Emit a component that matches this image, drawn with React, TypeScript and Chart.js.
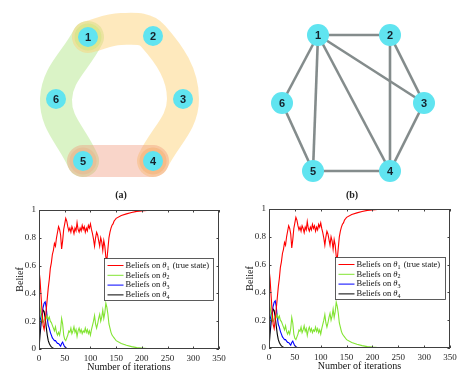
import React, { useEffect, useRef } from "react";
import { Chart, registerables } from "chart.js";
Chart.register(...registerables);

// ---------- diagram data ----------
const nodeLabels = ["1", "2", "3", "4", "5", "6"];
// hypergraph (a) node centres (diagram units)
const hyperNodeX = [88, 153, 183, 153, 83, 56];
const hyperNodeY = [37, 36, 99, 161, 161, 99];
// hyperedges (centre-lines of bands)
const orangeEdgeX = [88, 121, 153, 183, 153];
const orangeEdgeY = [37, 29, 36, 99, 161];
const greenEdgeX = [88, 56, 83];
const greenEdgeY = [37, 99, 161];
const redEdgeX = [83, 153];
const redEdgeY = [161, 161];
const ringNodes = [0, 4, 3];
const ringColors = ["rgba(200,230,120,0.45)", "rgba(236,170,130,0.35)", "rgba(242,170,100,0.4)"];

// graph (b)
const graphNodeX = [81, 153, 187, 153, 76, 45];
const graphNodeY = [35, 35, 103, 171, 171, 103];
const graphEdges = [
  [0, 1], [0, 5], [0, 4], [0, 3], [0, 2], [1, 2], [1, 3], [2, 3], [3, 4], [4, 5],
];

// ---------- belief series ----------
const iterations = [
  0, 2, 4, 6, 8, 10, 12, 14, 16, 18, 20, 22, 24, 26, 28, 30, 32, 34, 36, 38, 40, 42, 44, 46, 48,
  50, 52, 54, 56, 58, 60, 62, 64, 66, 68, 70, 72, 74, 76, 78, 80, 82, 84, 86, 88, 90, 92, 94, 96,
  98, 100, 102, 104, 106, 108, 110, 112, 114, 116, 118, 120, 122, 124, 126, 128, 130, 132, 134,
  136, 138, 140, 142, 144, 146, 148, 150, 160, 170, 180, 190, 200, 210, 220, 230, 240, 250, 260,
  270, 280, 290, 300, 310, 320, 330, 340, 350,
];
const beliefTheta1 = [
  0.57, 0.5, 0.38, 0.27, 0.17, 0.14, 0.2, 0.28, 0.36, 0.44, 0.5, 0.58, 0.62, 0.68, 0.71, 0.76,
  0.74, 0.8, 0.84, 0.88, 0.86, 0.82, 0.72, 0.78, 0.86, 0.9, 0.94, 0.92, 0.88, 0.85, 0.87, 0.84,
  0.88, 0.86, 0.83, 0.87, 0.85, 0.91, 0.86, 0.84, 0.87, 0.85, 0.89, 0.86, 0.88, 0.84, 0.87, 0.85,
  0.89, 0.87, 0.9, 0.86, 0.83, 0.79, 0.74, 0.8, 0.84, 0.82, 0.78, 0.74, 0.8, 0.77, 0.71, 0.78,
  0.74, 0.66, 0.64, 0.72, 0.8, 0.84, 0.87, 0.89, 0.9, 0.92, 0.93, 0.94,
  0.96, 0.972, 0.982, 0.99, 0.994, 0.997, 0.999, 1, 1, 1, 1, 1, 1, 1, 1, 1, 1, 1, 1, 1,
];
const beliefTheta2 = [
  0.4, 0.3, 0.24, 0.2, 0.19, 0.21, 0.23, 0.22, 0.24, 0.21, 0.23, 0.2, 0.19, 0.17, 0.15, 0.13,
  0.16, 0.12, 0.1, 0.12, 0.1, 0.14, 0.22, 0.18, 0.1, 0.07, 0.06, 0.08, 0.1, 0.13, 0.12, 0.15,
  0.11, 0.13, 0.16, 0.12, 0.14, 0.09, 0.13, 0.15, 0.12, 0.14, 0.11, 0.13, 0.12, 0.15, 0.12, 0.14,
  0.11, 0.13, 0.1, 0.14, 0.17, 0.2, 0.24, 0.18, 0.15, 0.18, 0.22, 0.25, 0.2, 0.23, 0.28, 0.22,
  0.26, 0.33, 0.3, 0.25, 0.18, 0.15, 0.12, 0.1, 0.09, 0.08, 0.07, 0.06,
  0.04, 0.027, 0.017, 0.01, 0.006, 0.003, 0.001, 0, 0, 0, 0, 0, 0, 0, 0, 0, 0, 0, 0, 0,
];
const earlyIterations = [
  0, 2, 4, 6, 8, 10, 12, 14, 16, 18, 20, 22, 24, 26, 28, 30, 32, 34, 36, 38, 40, 42, 44, 46, 48,
  50, 52, 54, 56, 58, 60, 80, 350,
];
const beliefTheta3 = [
  0.02, 0.2, 0.24, 0.26, 0.3, 0.33, 0.34, 0.3, 0.22, 0.17, 0.15, 0.12, 0.1, 0.08, 0.07, 0.06,
  0.06, 0.05, 0.04, 0.04, 0.03, 0.02, 0.04, 0.05, 0.03, 0.015, 0.01, 0.005, 0.003, 0.002, 0.001,
  0, 0,
];
const beliefTheta4 = [
  0, 0.1, 0.18, 0.24, 0.28, 0.27, 0.22, 0.16, 0.1, 0.06, 0.04, 0.025, 0.015, 0.01, 0.006, 0.004,
  0.002, 0.001, 0, 0, 0, 0, 0, 0, 0, 0, 0, 0, 0, 0, 0, 0, 0,
];
const seriesSubscripts = ["1", "2", "3", "4"];
const seriesSuffix = [" (true state)", "", "", ""];
const seriesColors = ["#ff0000", "rgb(130,228,50)", "#0000ff", "#000000"];
const xTickStep = 50;
const yTickStep = 0.2;

const NODE_COLOR = "rgb(96,228,240)";
const SERIF = "'Liberation Serif', 'DejaVu Serif', serif";

const toPts = (xs: number[], ys: number[]) => xs.map((x, i) => ({ x, y: ys[i] }));

function diagramLabels(xs: number[], ys: number[], caption: string, capX: number, capY: number) {
  return {
    id: "diagramLabels",
    afterDatasetsDraw(chart: any) {
      const { ctx, scales } = chart;
      ctx.save();
      ctx.fillStyle = "#15222c";
      ctx.font = "bold 11px 'Liberation Sans', Arial, sans-serif";
      ctx.textAlign = "center";
      ctx.textBaseline = "middle";
      xs.forEach((x, i) => {
        ctx.fillText(nodeLabels[i], scales.x.getPixelForValue(x), scales.y.getPixelForValue(ys[i]) + 0.5);
      });
      ctx.fillStyle = "#222";
      ctx.font = `bold 10px ${SERIF}`;
      ctx.fillText(caption, scales.x.getPixelForValue(capX), scales.y.getPixelForValue(capY));
      ctx.restore();
    },
  };
}

const diagramScales = {
  x: { type: "linear", min: 0, max: 237, display: false },
  y: { type: "linear", min: 0, max: 203, reverse: true, display: false },
};

function hyperConfig(): any {
  const band = (xs: number[], ys: number[], color: string, order: number) => ({
    data: toPts(xs, ys),
    showLine: true,
    borderColor: color,
    borderWidth: 32,
    borderCapStyle: "round",
    borderJoinStyle: "round",
    tension: 0.4,
    pointRadius: 0,
    fill: false,
    clip: false,
    order,
  });
  return {
    type: "scatter",
    data: {
      datasets: [
        {
          data: toPts(hyperNodeX, hyperNodeY),
          pointRadius: 10,
          backgroundColor: NODE_COLOR,
          borderWidth: 0,
          order: 0,
        },
        {
          data: ringNodes.map((n) => ({ x: hyperNodeX[n], y: hyperNodeY[n] })),
          pointRadius: 13.5,
          backgroundColor: ringColors,
          borderWidth: 0,
          order: 1,
        },
        band(redEdgeX, redEdgeY, "rgba(240,150,120,0.4)", 2),
        band(orangeEdgeX, orangeEdgeY, "rgba(252,208,118,0.48)", 3),
        band(greenEdgeX, greenEdgeY, "rgba(178,230,136,0.48)", 4),
      ],
    },
    options: {
      responsive: false,
      animation: false,
      events: [],
      layout: { padding: 0, autoPadding: false },
      plugins: { legend: { display: false }, tooltip: { enabled: false } },
      scales: diagramScales,
    },
    plugins: [diagramLabels(hyperNodeX, hyperNodeY, "(a)", 121, 195)],
  };
}

function graphConfig(): any {
  const edges = graphEdges.map(([a, b]) => ({
    data: [
      { x: graphNodeX[a], y: graphNodeY[a] },
      { x: graphNodeX[b], y: graphNodeY[b] },
    ],
    showLine: true,
    borderColor: "rgb(132,140,140)",
    borderWidth: 2.6,
    pointRadius: 0,
    order: 2,
  }));
  return {
    type: "scatter",
    data: {
      datasets: [
        {
          data: toPts(graphNodeX, graphNodeY),
          pointRadius: 11,
          backgroundColor: NODE_COLOR,
          borderWidth: 0,
          order: 0,
        },
        ...edges,
      ],
    },
    options: {
      responsive: false,
      animation: false,
      events: [],
      layout: { padding: 0, autoPadding: false },
      plugins: { legend: { display: false }, tooltip: { enabled: false } },
      scales: diagramScales,
    },
    plugins: [diagramLabels(graphNodeX, graphNodeY, "(b)", 115, 195)],
  };
}

type BeliefLayout = {
  yAxisWidth: number;
  xAxisHeight: number;
  padTop: number;
  padRight: number;
  yTitlePad: number;
  xTitlePad: number;
  legendLeft: number;
  legendRight: number;
};

const boxAndLegend = {
  id: "boxAndLegend",
  afterDatasetsDraw(chart: any, _args: any, opts: any) {
    const { ctx, chartArea: a, scales } = chart;
    ctx.save();
    ctx.strokeStyle = "#404040";
    ctx.lineWidth = 1;
    ctx.strokeRect(Math.round(a.left) + 0.5, Math.round(a.top) + 0.5, Math.round(a.right - a.left) - 1, Math.round(a.bottom - a.top) - 1);
    const tl = 2.5;
    ctx.beginPath();
    scales.x.ticks.forEach((t: any) => {
      const px = Math.round(scales.x.getPixelForValue(t.value)) + 0.5;
      ctx.moveTo(px, a.bottom); ctx.lineTo(px, a.bottom - tl);
      ctx.moveTo(px, a.top); ctx.lineTo(px, a.top + tl);
    });
    scales.y.ticks.forEach((t: any) => {
      const py = Math.round(scales.y.getPixelForValue(t.value)) + 0.5;
      ctx.moveTo(a.left, py); ctx.lineTo(a.left + tl, py);
      ctx.moveTo(a.right, py); ctx.lineTo(a.right - tl, py);
    });
    ctx.stroke();

    // legend
    const bl = Math.round(a.left + opts.left) + 0.5;
    const br = Math.round(a.right - opts.right) + 0.5;
    const bt = Math.round(a.top + 48) + 0.5;
    const bh = 42;
    ctx.fillStyle = "#fff";
    ctx.fillRect(bl, bt, br - bl, bh);
    ctx.strokeStyle = "#333";
    ctx.lineWidth = 0.8;
    ctx.strokeRect(bl, bt, br - bl, bh);
    ctx.textBaseline = "middle";
    ctx.textAlign = "left";
    seriesSubscripts.forEach((sub, i) => {
      const y = bt + 7 + i * 9.8;
      ctx.strokeStyle = seriesColors[i];
      ctx.lineWidth = 1;
      ctx.beginPath();
      ctx.moveTo(bl + 3, y);
      ctx.lineTo(bl + 19, y);
      ctx.stroke();
      ctx.fillStyle = "#111";
      let x = bl + 21;
      ctx.font = `8.5px ${SERIF}`;
      const pre = "Beliefs on ";
      ctx.fillText(pre, x, y);
      x += ctx.measureText(pre).width;
      ctx.font = `italic 8.5px ${SERIF}`;
      ctx.fillText("θ", x, y);
      x += ctx.measureText("θ").width;
      ctx.font = `6px ${SERIF}`;
      ctx.fillText(sub, x, y + 2.5);
      x += ctx.measureText(sub).width;
      if (seriesSuffix[i]) {
        ctx.font = `8.5px ${SERIF}`;
        ctx.fillText(seriesSuffix[i], x + 1, y);
      }
    });
    ctx.restore();
  },
};

function beliefConfig(L: BeliefLayout): any {
  const mk = (xs: number[], ys: number[], i: number) => ({
    label: `Beliefs on θ${seriesSubscripts[i]}${seriesSuffix[i]}`,
    data: toPts(xs, ys),
    borderColor: seriesColors[i],
    borderWidth: 1.1,
    pointRadius: 0,
    tension: 0,
    fill: false,
  });
  const tickFont = { family: SERIF, size: 9 };
  const titleFont = { family: SERIF, size: 10 };
  return {
    type: "line",
    data: {
      datasets: [
        mk(iterations, beliefTheta1, 0),
        mk(iterations, beliefTheta2, 1),
        mk(earlyIterations, beliefTheta3, 2),
        mk(earlyIterations, beliefTheta4, 3),
      ],
    },
    options: {
      responsive: false,
      animation: false,
      events: [],
      layout: { padding: { top: L.padTop, right: L.padRight, left: 0, bottom: 0 }, autoPadding: false },
      plugins: {
        legend: { display: false },
        tooltip: { enabled: false },
        boxAndLegend: { left: L.legendLeft, right: L.legendRight },
      },
      scales: {
        x: {
          type: "linear",
          min: 0,
          max: 350,
          grid: { display: false, drawTicks: false },
          border: { display: false },
          ticks: { stepSize: xTickStep, font: tickFont, color: "#262626", padding: 4, maxRotation: 0 },
          title: {
            display: true,
            text: "Number of iterations",
            font: titleFont,
            color: "#111",
            padding: { top: 0, bottom: L.xTitlePad },
          },
          afterFit: (s: any) => {
            s.height = L.xAxisHeight;
          },
        },
        y: {
          type: "linear",
          min: 0,
          max: 1,
          grid: { display: false, drawTicks: false },
          border: { display: false },
          ticks: {
            stepSize: yTickStep,
            font: tickFont,
            color: "#262626",
            padding: 3,
            callback: (v: any) => Number(v).toFixed(1).replace(/\.0$/, ""),
          },
          title: {
            display: true,
            text: "Belief",
            font: titleFont,
            color: "#111",
            padding: { top: L.yTitlePad, bottom: 0 },
          },
          afterFit: (s: any) => {
            s.width = L.yAxisWidth;
          },
        },
      },
    },
    plugins: [boxAndLegend],
  };
}

function ChartCanvas({ make, left, top, width, height }: any) {
  const ref = useRef<HTMLCanvasElement>(null);
  useEffect(() => {
    const chart = new Chart(ref.current as HTMLCanvasElement, make());
    return () => chart.destroy();
  }, []);
  return (
    <canvas
      ref={ref}
      width={width}
      height={height}
      style={{ position: "absolute", left, top, width, height }}
    />
  );
}

export default function App() {
  return (
    <div style={{ position: "absolute", left: 0, top: 0, width: 474, height: 373, background: "#fff", overflow: "hidden" }}>
      <ChartCanvas make={hyperConfig} left={0} top={0} width={237} height={203} />
      <ChartCanvas make={graphConfig} left={237} top={0} width={237} height={203} />
      <ChartCanvas
        make={() =>
          beliefConfig({ yAxisWidth: 39, xAxisHeight: 24, padTop: 15, padRight: 18, yTitlePad: 14, xTitlePad: 0, legendLeft: 65, legendRight: 6 })
        }
        left={0}
        top={195}
        width={237}
        height={178}
      />
      <ChartCanvas
        make={() =>
          beliefConfig({ yAxisWidth: 32, xAxisHeight: 25, padTop: 14, padRight: 24, yTitlePad: 7, xTitlePad: 1, legendLeft: 66, legendRight: 5 })
        }
        left={237}
        top={195}
        width={237}
        height={178}
      />
    </div>
  );
}
